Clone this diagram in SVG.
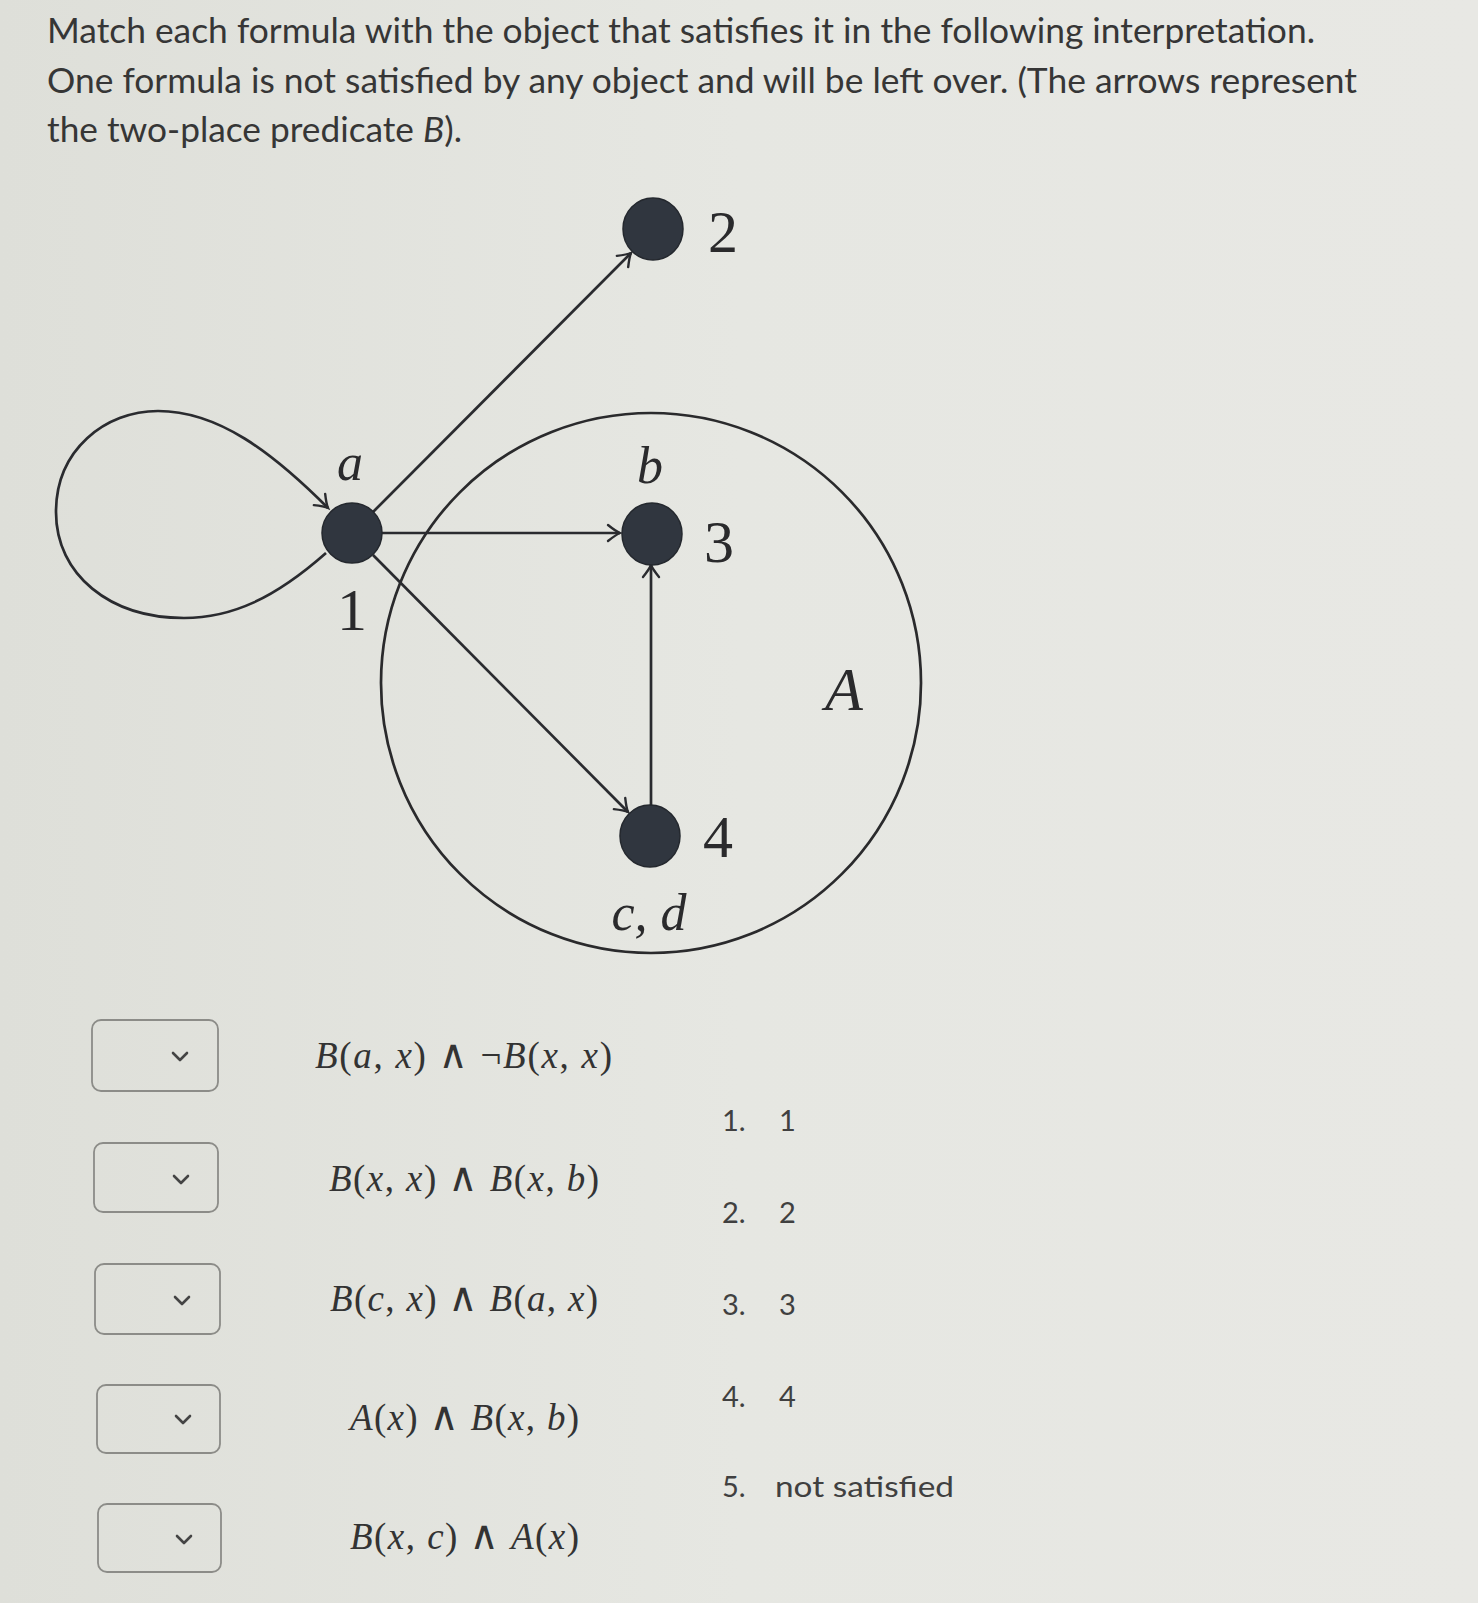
<svg xmlns="http://www.w3.org/2000/svg" width="1478" height="1603" viewBox="0 0 1478 1603">
  <defs>
    <linearGradient id="bg" x1="0" y1="0" x2="1" y2="0">
      <stop offset="0" stop-color="#dedfd9"/>
      <stop offset="0.5" stop-color="#e6e7e2"/>
      <stop offset="1" stop-color="#e8e8e4"/>
    </linearGradient>
    <marker id="arr" markerUnits="userSpaceOnUse" viewBox="-14 -10 16 20" markerWidth="16" markerHeight="20" refX="0" refY="0" orient="auto" overflow="visible">
      <path d="M -12 -8 C -7 -4, -3 -1.2, 0 0 C -3 1.2, -7 4, -12 8" fill="none" stroke="#2a2b2f" stroke-width="2.4" stroke-linecap="round"/>
    </marker>
    <style>
      .hdr { font-family: Lato, "Liberation Sans", sans-serif; font-size: 35px; fill: #363636; }
      .opt { font-family: Lato, "Liberation Sans", sans-serif; font-size: 29px; fill: #404040; }
      .lbl { font-family: "Liberation Serif", "DejaVu Serif", serif; fill: #2a2a2c; }
      .num { font-size: 60px; }
      .ital { font-style: italic; font-size: 52px; }
      .bigA { font-style: italic; font-size: 62px; }
      .fml { font-family: "Liberation Serif", "DejaVu Serif", serif; font-size: 37px; fill: #333; }
      .fml .i { font-style: italic; }
      .fml .op { font-family: "DejaVu Serif", serif; font-size: 40px; }
      .node { fill: #30363f; stroke: #24282e; stroke-width: 1.5; }
      .edge { fill: none; stroke: #2a2b2f; stroke-width: 2.7; }
      .box { fill: none; stroke: #8c8c88; stroke-width: 1.8; }
      .chev { fill: none; stroke: #444; stroke-width: 2.6; stroke-linecap: round; stroke-linejoin: round; }
    </style>
  </defs>

  <rect x="0" y="0" width="1478" height="1603" fill="url(#bg)"/>

  <g id="header">
    <text class="hdr" x="47" y="43" textLength="1268" lengthAdjust="spacingAndGlyphs">Match each formula with the object that satisfies it in the following interpretation.</text>
    <text class="hdr" x="47" y="93" textLength="1310" lengthAdjust="spacingAndGlyphs">One formula is not satisfied by any object and will be left over. (The arrows represent</text>
    <text class="hdr" x="47" y="142" textLength="415" lengthAdjust="spacingAndGlyphs">the two-place predicate <tspan font-style="italic">B</tspan>).</text>
  </g>

  <g id="set-A">
    <circle cx="651" cy="683" r="270" fill="none" stroke="#2a2a2c" stroke-width="2.7"/>
    <text class="lbl bigA" x="844" y="710" text-anchor="middle">A</text>
  </g>

  <g id="connectors">
    <path class="edge" d="M 326 553 C 275 598, 232 618, 184 618 C 110 618, 56 575, 56 512 C 56 450, 105 411, 158 411 C 218 411, 272 452, 328 508" marker-end="url(#arr)"/>
    <line class="edge" x1="373" y1="512" x2="631" y2="253" marker-end="url(#arr)"/>
    <line class="edge" x1="382" y1="533" x2="620" y2="533" marker-end="url(#arr)"/>
    <line class="edge" x1="373" y1="555" x2="628" y2="812" marker-end="url(#arr)"/>
    <line class="edge" x1="651" y1="806" x2="651" y2="565" marker-end="url(#arr)"/>
  </g>

  <g id="node-1">
    <circle class="node" cx="352" cy="533" r="30"/>
    <text class="lbl ital" x="350" y="480" text-anchor="middle">a</text>
    <text class="lbl num" x="352" y="630" text-anchor="middle">1</text>
  </g>
  <g id="node-2">
    <ellipse class="node" cx="653" cy="229" rx="30" ry="31"/>
    <text class="lbl num" x="723" y="252" text-anchor="middle">2</text>
  </g>
  <g id="node-3">
    <ellipse class="node" cx="652" cy="534" rx="30" ry="31"/>
    <text class="lbl ital" x="650" y="483" text-anchor="middle">b</text>
    <text class="lbl num" x="719" y="562" text-anchor="middle">3</text>
  </g>
  <g id="node-4">
    <ellipse class="node" cx="650" cy="836" rx="30" ry="31"/>
    <text class="lbl num" x="718" y="857" text-anchor="middle">4</text>
    <text class="lbl ital" x="649" y="930" text-anchor="middle">c, d</text>
  </g>

  <g id="dropdowns">
    <g id="dd1"><rect class="box" x="92" y="1020" width="126" height="71" rx="9"/><path class="chev" d="M 173 1053 L 180 1060 L 187 1053"/></g>
    <g id="dd2"><rect class="box" x="94" y="1143" width="124" height="69" rx="9"/><path class="chev" d="M 174 1176 L 181 1183 L 188 1176"/></g>
    <g id="dd3"><rect class="box" x="95" y="1264" width="125" height="70" rx="9"/><path class="chev" d="M 175 1297 L 182 1304 L 189 1297"/></g>
    <g id="dd4"><rect class="box" x="97" y="1385" width="123" height="68" rx="9"/><path class="chev" d="M 176 1416 L 183 1423 L 190 1416"/></g>
    <g id="dd5"><rect class="box" x="98" y="1504" width="123" height="68" rx="9"/><path class="chev" d="M 177 1536 L 184 1543 L 191 1536"/></g>
  </g>

  <g id="formulas">
    <text class="fml" x="315" y="1068" textLength="297" lengthAdjust="spacing"><tspan class="i">B</tspan>(<tspan class="i">a</tspan>, <tspan class="i">x</tspan>) <tspan class="op">∧</tspan> ¬<tspan class="i">B</tspan>(<tspan class="i">x</tspan>, <tspan class="i">x</tspan>)</text>
    <text class="fml" x="329" y="1191" textLength="270" lengthAdjust="spacing"><tspan class="i">B</tspan>(<tspan class="i">x</tspan>, <tspan class="i">x</tspan>) <tspan class="op">∧</tspan> <tspan class="i">B</tspan>(<tspan class="i">x</tspan>, <tspan class="i">b</tspan>)</text>
    <text class="fml" x="330" y="1311" textLength="268" lengthAdjust="spacing"><tspan class="i">B</tspan>(<tspan class="i">c</tspan>, <tspan class="i">x</tspan>) <tspan class="op">∧</tspan> <tspan class="i">B</tspan>(<tspan class="i">a</tspan>, <tspan class="i">x</tspan>)</text>
    <text class="fml" x="350" y="1430" textLength="229" lengthAdjust="spacing"><tspan class="i">A</tspan>(<tspan class="i">x</tspan>) <tspan class="op">∧</tspan> <tspan class="i">B</tspan>(<tspan class="i">x</tspan>, <tspan class="i">b</tspan>)</text>
    <text class="fml" x="350" y="1549" textLength="229" lengthAdjust="spacing"><tspan class="i">B</tspan>(<tspan class="i">x</tspan>, <tspan class="i">c</tspan>) <tspan class="op">∧</tspan> <tspan class="i">A</tspan>(<tspan class="i">x</tspan>)</text>
  </g>

  <g id="options">
    <text class="opt" x="722" y="1131">1.</text><text class="opt" x="779" y="1131">1</text>
    <text class="opt" x="722" y="1223">2.</text><text class="opt" x="779" y="1223">2</text>
    <text class="opt" x="722" y="1315">3.</text><text class="opt" x="779" y="1315">3</text>
    <text class="opt" x="722" y="1407">4.</text><text class="opt" x="779" y="1407">4</text>
    <text class="opt" x="722" y="1497">5.</text><text class="opt" x="775" y="1497" textLength="179" lengthAdjust="spacingAndGlyphs">not satisfied</text>
  </g>
</svg>
